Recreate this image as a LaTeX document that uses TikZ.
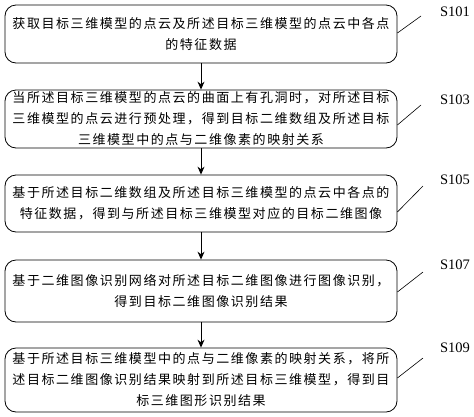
\documentclass[tikz,border=0pt]{standalone}
\usepackage{fontspec}
\setmainfont{Liberation Serif}
\newfontfamily\cjk[LetterSpace=12]{Noto Sans CJK SC}
\usetikzlibrary{arrows.meta,calc}
\begin{document}
\begin{tikzpicture}[x=1pt,y=-1pt,
  stepbox/.style={draw,line width=0.8pt,rounded corners=11pt,minimum width=392pt,inner sep=0pt,align=center,
    font={\cjk\fontsize{13}{21}\selectfont}},
  flow/.style={-{Stealth[length=8pt,width=7pt]},line width=1pt},
  leader/.style={line width=0.6pt},
  steplabel/.style={font=\fontsize{14.5}{16}\selectfont,inner sep=0pt}]
\useasboundingbox (0,0) rectangle (474,416);
\node[stepbox,minimum height=58pt] (b1) at (201,34) {获取目标三维模型的点云及所述目标三维模型的点云中各点\\的特征数据};
\node[stepbox,minimum height=58pt] (b2) at (201,119) {当所述目标三维模型的点云的曲面上有孔洞时，对所述目标\\三维模型的点云进行预处理，得到目标二维数组及所述目标\\三维模型中的点与二维像素的映射关系};
\node[stepbox,minimum height=57pt] (b3) at (201,203.5) {基于所述目标二维数组及所述目标三维模型的点云中各点的\\特征数据，得到与所述目标三维模型对应的目标二维图像};
\node[stepbox,minimum height=62pt] (b4) at (201,291) {基于二维图像识别网络对所述目标二维图像进行图像识别，\\得到目标二维图像识别结果};
\node[stepbox,minimum height=64pt] (b5) at (201,380) {基于所述目标三维模型中的点与二维像素的映射关系，将所\\述目标二维图像识别结果映射到所述目标三维模型，得到目\\标三维图形识别结果};
\draw[flow] (b1.south) -- (b2.north);
\draw[flow] (b2.south) -- (b3.north);
\draw[flow] (b3.south) -- (b4.north);
\draw[flow] (b4.south) -- (b5.north);
\node[steplabel] (l1) at (455,12) {S101};
\node[steplabel] (l2) at (455,100) {S103};
\node[steplabel] (l3) at (455,180) {S105};
\node[steplabel] (l4) at (455,265) {S107};
\node[steplabel] (l5) at (455,348) {S109};
\coordinate (c1) at (421,16);
\coordinate (c2) at (421,105);
\coordinate (c3) at (423,186);
\coordinate (c4) at (423,272);
\coordinate (c5) at (423,358);
\draw[leader] ([yshift=1pt]b1.east) -- (c1);
\draw[leader] ([yshift=-6pt]b2.east) -- (c2);
\draw[leader] ([yshift=-8.5pt]b3.east) -- (c3);
\draw[leader] ([yshift=-1pt]b4.east) -- (c4);
\draw[leader] ([yshift=2pt]b5.east) -- (c5);
\end{tikzpicture}
\end{document}
